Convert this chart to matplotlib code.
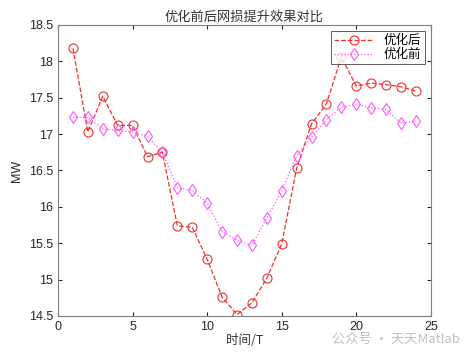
import matplotlib
matplotlib.use('Agg')
import matplotlib.pyplot as plt

plt.rcParams['font.family'] = ['Liberation Sans', 'Noto Sans CJK SC', 'DejaVu Sans']

t = list(range(1, 25))
after = [18.18, 17.03, 17.52, 17.12, 17.12, 16.69, 16.75, 15.74, 15.72, 15.28,
         14.76, 14.52, 14.68, 15.02, 15.49, 16.53, 17.14, 17.42, 18.06, 17.66,
         17.70, 17.68, 17.65, 17.59]
before = [17.23, 17.23, 17.07, 17.05, 17.03, 16.97, 16.75, 16.26, 16.23, 16.05,
          15.66, 15.54, 15.47, 15.85, 16.22, 16.70, 16.96, 17.20, 17.37, 17.41,
          17.36, 17.34, 17.15, 17.18]

fig = plt.figure(figsize=(4.74, 3.55), dpi=100)
ax = fig.add_axes([0.1224, 0.1099, 0.7866, 0.8197])

ax.plot(t, after, '--o', color='#ee3030', lw=0.9, ms=6.5, mfc='none', mew=0.8, label='优化后')
ax.plot(t, before, ':d', color='#ff55ff', lw=0.9, ms=6.5, mfc='none', mew=0.8, label='优化前')

ax.set_xlim(0, 25)
ax.set_ylim(14.5, 18.5)
ax.set_xticks([0, 5, 10, 15, 20, 25])
ax.set_yticks([14.5, 15, 15.5, 16, 16.5, 17, 17.5, 18, 18.5])
ax.set_yticklabels(['14.5', '15', '15.5', '16', '16.5', '17', '17.5', '18', '18.5'])
ax.tick_params(direction='in', length=3, labelsize=9, colors='#262626', top=True, right=True)
ax.tick_params(labeltop=False, labelright=False)
for s in ax.spines.values():
    s.set_color('#808080')
    s.set_linewidth(0.8)

ax.set_title('优化前后网损提升效果对比', fontsize=9.5, family=['Noto Sans CJK SC'], color='#333333', pad=3)
ax.set_xlabel('时间/T', fontsize=9, family=['Noto Sans CJK SC', 'DejaVu Sans'], color='#333333', labelpad=1)
ax.set_ylabel('MW', fontsize=9, color='#262626', labelpad=4)

leg = ax.legend(loc='upper right', fancybox=False, edgecolor='#333333',
                prop={'family': ['Noto Sans CJK SC'], 'size': 9},
                handlelength=3.2, borderaxespad=0.5, labelspacing=0.05, borderpad=0.25)
leg.get_frame().set_linewidth(0.7)

fig.text(0.97, 0.035, '公众号 · 天天Matlab', fontsize=9.5, color='#c0c0c0', ha='right',
         family=['Noto Sans CJK SC', 'DejaVu Sans'])

fig.savefig('out.png', dpi=100)
